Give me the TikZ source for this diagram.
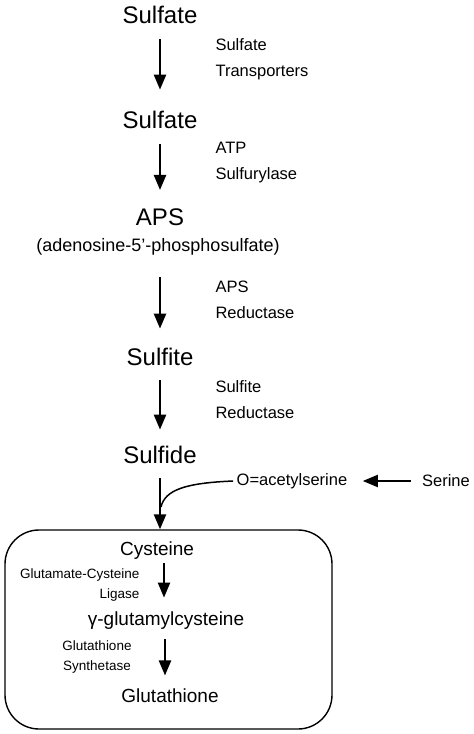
\documentclass[tikz,border=0pt]{standalone}
\usepackage{fontspec}
\setmainfont{Liberation Sans}
\usetikzlibrary{arrows.meta}

\begin{document}
\begin{tikzpicture}[x=1pt,y=1pt,
    cmpd/.style={font=\fontsize{24}{28}\selectfont},
    incmpd/.style={font=\fontsize{19}{23}\selectfont},
    enz/.style={font=\fontsize{16.5}{26}\selectfont,align=left,anchor=west},
    smallenz/.style={font=\fontsize{13.5}{20}\selectfont},
    rxn/.style={-{Triangle[width=12pt,length=15pt]},line width=2.4pt}]
\useasboundingbox (0,0) rectangle (474,-734);
% main pathway
\node[cmpd] (sulfateA) at (160,-15) {Sulfate};
\node[cmpd] (sulfateB) at (160,-120) {Sulfate};
\node[cmpd] (aps) at (160,-217) {APS};
\node[font=\fontsize{18}{22}\selectfont] (apsname) at (158,-247) {(adenosine-5'-phosphosulfate)};
\node[cmpd] (sulfite) at (160,-357) {Sulfite};
\node[cmpd] (sulfide) at (160,-455) {Sulfide};
\node[enz] (transp) at (212,-59.5) {Sulfate\\Transporters};
\node[enz] (atps) at (212,-162.5) {ATP\\Sulfurylase};
\node[enz] (apsr) at (212,-300) {APS\\Reductase};
\node[enz] (sir) at (212,-399.5) {Sulfite\\Reductase};
\draw[rxn,shorten <=12pt,shorten >=18pt] (sulfateA) -- (sulfateB);
\draw[rxn,shorten <=12pt,shorten >=15pt] (sulfateB) -- (aps);
\draw[rxn,shorten <=18pt,shorten >=16pt] (apsname.south -| aps) -- (sulfite);
\draw[rxn,shorten <=11pt,shorten >=13pt] (sulfite) -- (sulfide);
% serine side branch
\node[font=\fontsize{16.5}{20}\selectfont] (oas) at (292,-481) {O=acetylserine};
\node[font=\fontsize{16.5}{20}\selectfont] (serine) at (446,-481) {Serine};
\draw[rxn,line width=2pt,shorten <=8pt,shorten >=12pt] (serine) -- (oas);
% glutathione box
\node[draw,line width=1.4pt,rounded corners=34pt,minimum width=327pt,minimum height=199pt] (gbox) at (168.5,-629.5) {};
\coordinate (join) at (161,-507);
\draw[rxn,shorten <=11pt] (sulfide) -- (sulfide |- gbox.north);
\draw[line width=1.5pt] (oas.west) .. controls (185,-483) and (165,-490) .. (join);
\node[incmpd] (cys) at (157,-551) {Cysteine};
\node[incmpd] (ggc) at (166,-621) {γ-glutamylcysteine};
\node[incmpd] (gsh) at (170,-696) {Glutathione};
\node[smallenz,align=right,anchor=east] (gcl) at (143,-585) {Glutamate-Cysteine\\Ligase};
\node[smallenz,align=center] (gs) at (97,-657) {Glutathione\\Synthetase};
\draw[rxn,line width=2.2pt,shorten <=0pt,shorten >=11pt] ([xshift=7pt]cys.south) -- ([xshift=-2pt]ggc.north);
\draw[rxn,line width=2.2pt,shorten <=6pt,shorten >=10pt] ([xshift=-1pt]ggc.south) -- ([xshift=-5pt]gsh.north);
\end{tikzpicture}
\end{document}
